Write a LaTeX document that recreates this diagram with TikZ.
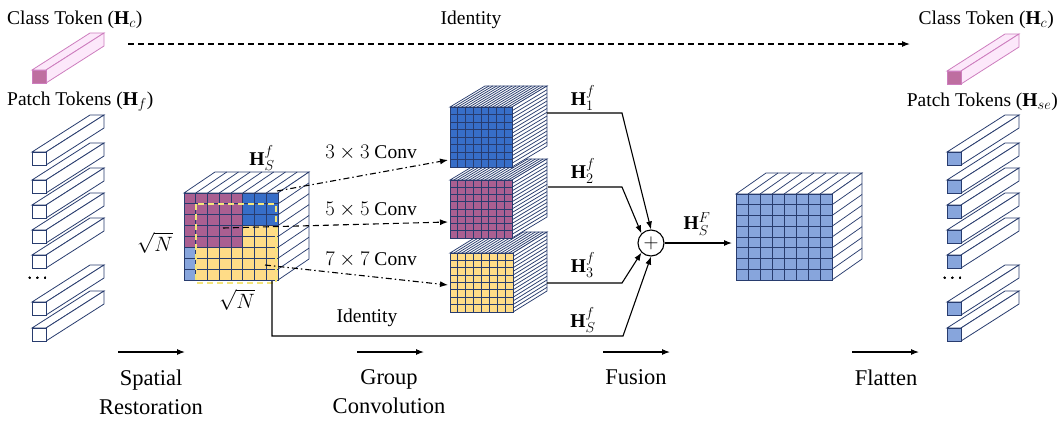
\documentclass[tikz,border=0pt]{standalone}
\usepackage{fontspec}
\setmainfont{Liberation Serif}
\usepackage{amsmath,amssymb}
\usetikzlibrary{arrows.meta,positioning,calc}

\definecolor{navy}{RGB}{40,60,110}
\definecolor{mauve}{RGB}{170,95,145}
\definecolor{deepblue}{RGB}{55,110,200}
\definecolor{paleblue}{RGB}{135,165,220}
\definecolor{sand}{RGB}{255,220,135}
\definecolor{dashsand}{RGB}{245,230,120}
\definecolor{pinkline}{RGB}{205,125,190}
\definecolor{pinkside}{RGB}{252,232,250}
\definecolor{pinkfront}{RGB}{190,110,160}

% cube of 8x8 bars: x, y (front top-left), cell w, cell h, depth dx, dy, fill, stripes per cell
\newcommand{\barcube}[8]{%
  \draw[cubeline,fill=white] (#1,#2) -- ++({8*#3},0) -- ++(#5,#6) -- ++({-8*#3},0) -- cycle;
  \draw[cubeline,fill=white] ({#1+8*#3},#2) -- ++(#5,#6) -- ++(0,{8*#4}) -- ({#1+8*#3},{#2+8*#4}) -- cycle;
  \pgfmathtruncatemacro{\nstripe}{8*#8-1}
  \foreach \k in {1,...,\nstripe}
    \draw[cubeline] ({#1+\k*#3/#8},#2) -- ++(#5,#6);
  \foreach \k in {1,...,\nstripe}
    \draw[cubeline] ({#1+8*#3},{#2+\k*#4/#8}) -- ++(#5,#6);
  \foreach \i in {0,...,7}
    \foreach \j in {0,...,7}
      \draw[cellline,fill=#7] ({#1+\j*#3},{#2+\i*#4}) rectangle ++(#3,#4);
}
% one token: x, y (front top-left), front fill, line colour, face fill
\newcommand{\tokenbar}[5]{%
  \draw[draw=#4,fill=#5,line width=0.8pt] (#1,#2) -- ++(14,0) -- ++(58,-37) -- ++(-14,0) -- cycle;
  \draw[draw=#4,fill=#5,line width=0.8pt] ({#1+14},#2) -- ++(58,-37) -- ++(0,13) -- ({#1+14},{#2+13}) -- cycle;
  \draw[draw=#4,fill=#3,line width=0.8pt] (#1,#2) rectangle ++(14,13);
}

\begin{document}
\begin{tikzpicture}[x=1pt,y=-1pt,
  every node/.style={font=\fontsize{19.5}{23}\selectfont},
  cubeline/.style={draw=navy,line width=0.75pt},
  cellline/.style={draw=navy,line width=1pt},
  link/.style={line width=1.1pt},
  flow/.style={line width=1.1pt,-{Latex[length=8pt,width=6pt]}},
  dashdot/.style={dash pattern=on 6pt off 3pt on 1.5pt off 3pt},
  steplabel/.style={align=center,font=\fontsize{22.5}{29}\selectfont}]
\useasboundingbox (0,0) rectangle (1061,424);

% input tokens
\node[anchor=west,inner sep=0pt] (clsin) at (7,20) {Class Token ($\mathbf{H}_c$)};
\tokenbar{32}{70}{pinkfront}{pinkline}{pinkside}
\node[anchor=west,inner sep=0pt] (patchin) at (7,102) {Patch Tokens ($\mathbf{H}_f$)};
\foreach \y in {152,180,205,230,255,302,328}
  \tokenbar{32}{\y}{white}{navy}{white}
\node[font=\fontsize{16}{18}\selectfont] (dotsin) at (39,279) {$\cdots$};

% output tokens
\node[anchor=east,inner sep=0pt] (clsout) at (1054,20) {Class Token ($\mathbf{H}_c$)};
\tokenbar{947}{71}{pinkfront}{pinkline}{pinkside}
\node[anchor=east,inner sep=0pt] (patchout) at (1058,102) {Patch Tokens ($\mathbf{H}_{se}$)};
\foreach \y in {152,180,205,230,255,302,328}
  \tokenbar{947}{\y}{paleblue}{navy}{white}
\node[font=\fontsize{16}{18}\selectfont] (dotsout) at (954,279) {$\cdots$};

% identity for the class token
\coordinate (idtop1) at (128,44);
\coordinate (idtop2) at (910,44);
\draw[flow,dash pattern=on 6pt off 4pt] (idtop1) -- (idtop2);
\node (idtop) at (471,20) {Identity};

% spatial restoration
\barcube{184}{193}{11.75}{10.875}{31}{-21}{sand}{1}
\foreach \i in {0,...,4}
  \foreach \j in {0,...,4}
    \draw[cellline,fill=mauve] ({184+\j*11.75},{193+\i*10.875}) rectangle ++(11.75,10.875);
\foreach \i in {0,...,2}
  \foreach \j in {5,6,7}
    \draw[cellline,fill=deepblue] ({184+\j*11.75},{193+\i*10.875}) rectangle ++(11.75,10.875);
\foreach \i in {5,6,7}
  \draw[cellline,fill=paleblue] (184,{193+\i*10.875}) rectangle ++(11.75,10.875);
\draw[dashsand,line width=1.6pt,dash pattern=on 6pt off 4pt] (196,204) rectangle (276,283);
\node (hs) at (262,158) {$\mathbf{H}_S^f$};
\node (rootn1) at (155,243) {$\sqrt{N}$};
\node (rootn2) at (237,300) {$\sqrt{N}$};

% group convolution
\barcube{450}{253}{7.875}{7.375}{34}{-21}{sand}{2}
\barcube{450}{180}{7.75}{7.25}{35}{-21}{mauve}{2}
\barcube{450}{107}{7.75}{7.5}{35}{-21}{deepblue}{2}

\coordinate (from3) at (277,191);
\coordinate (from5) at (223,228);
\coordinate (from7) at (265,265);
\coordinate (to3) at (448,160);
\coordinate (to5) at (448,222);
\coordinate (to7) at (448,285);
\draw[flow,dashdot] (from3) -- (to3);
\draw[flow,dash pattern=on 6pt off 4pt] (from5) -- (to5);
\draw[flow,dashdot] (from7) -- (to7);
\node (conv3) at (371,153) {$3\times3$ Conv};
\node (conv5) at (371,210) {$5\times5$ Conv};
\node (conv7) at (371,260) {$7\times7$ Conv};

% fusion
\node[circle,draw,line width=1.1pt,minimum size=26pt,inner sep=0pt,font=\fontsize{22}{24}\selectfont] (sum) at (651,243) {$+$};
\coordinate (outa) at (547,113);
\coordinate (outb) at (548,187);
\coordinate (outc) at (547,283);
\coordinate (turna) at (622,113);
\coordinate (turnb) at (622,187);
\coordinate (turnc) at (622,283);
\draw[flow] (outa) -- (turna) -- (sum.north);
\draw[flow] (outb) -- (turnb) -- (sum.north west);
\draw[flow] (outc) -- (turnc) -- (sum.south west);
\coordinate (idstart) at (272,281);
\coordinate (idturn) at (623,336);
\draw[flow] (idstart) |- (idturn) -- (sum.south);
\node (h1) at (583,98) {$\mathbf{H}_1^f$};
\node (h2) at (583,171) {$\mathbf{H}_2^f$};
\node (h3) at (583,265) {$\mathbf{H}_3^f$};
\node (h4) at (583,320) {$\mathbf{H}_S^f$};
\node (idlow) at (367,318) {Identity};

\coordinate (fused) at (732,243);
\draw[flow] (sum.east) -- (fused);
\node (hF) at (697,224) {$\mathbf{H}_S^F$};
\barcube{736}{194}{12}{10.75}{30}{-21}{paleblue}{1}

% stage arrows
\foreach \x/\name in {118/sa,357/sb,603/sc,852/sd} {
  \coordinate (\name1) at (\x,352);
  \coordinate (\name2) at (\x+67,352);
  \draw[flow] (\name1) -- (\name2);
}
\node[steplabel,anchor=north] (spatial) at (151,366) {Spatial\\Restoration};
\node[steplabel,anchor=north] (group) at (389,366) {Group\\Convolution};
\node[steplabel,anchor=north] (fusion) at (636,366) {Fusion};
\node[steplabel,anchor=north] (flatten) at (886,366) {Flatten};
\end{tikzpicture}
\end{document}
